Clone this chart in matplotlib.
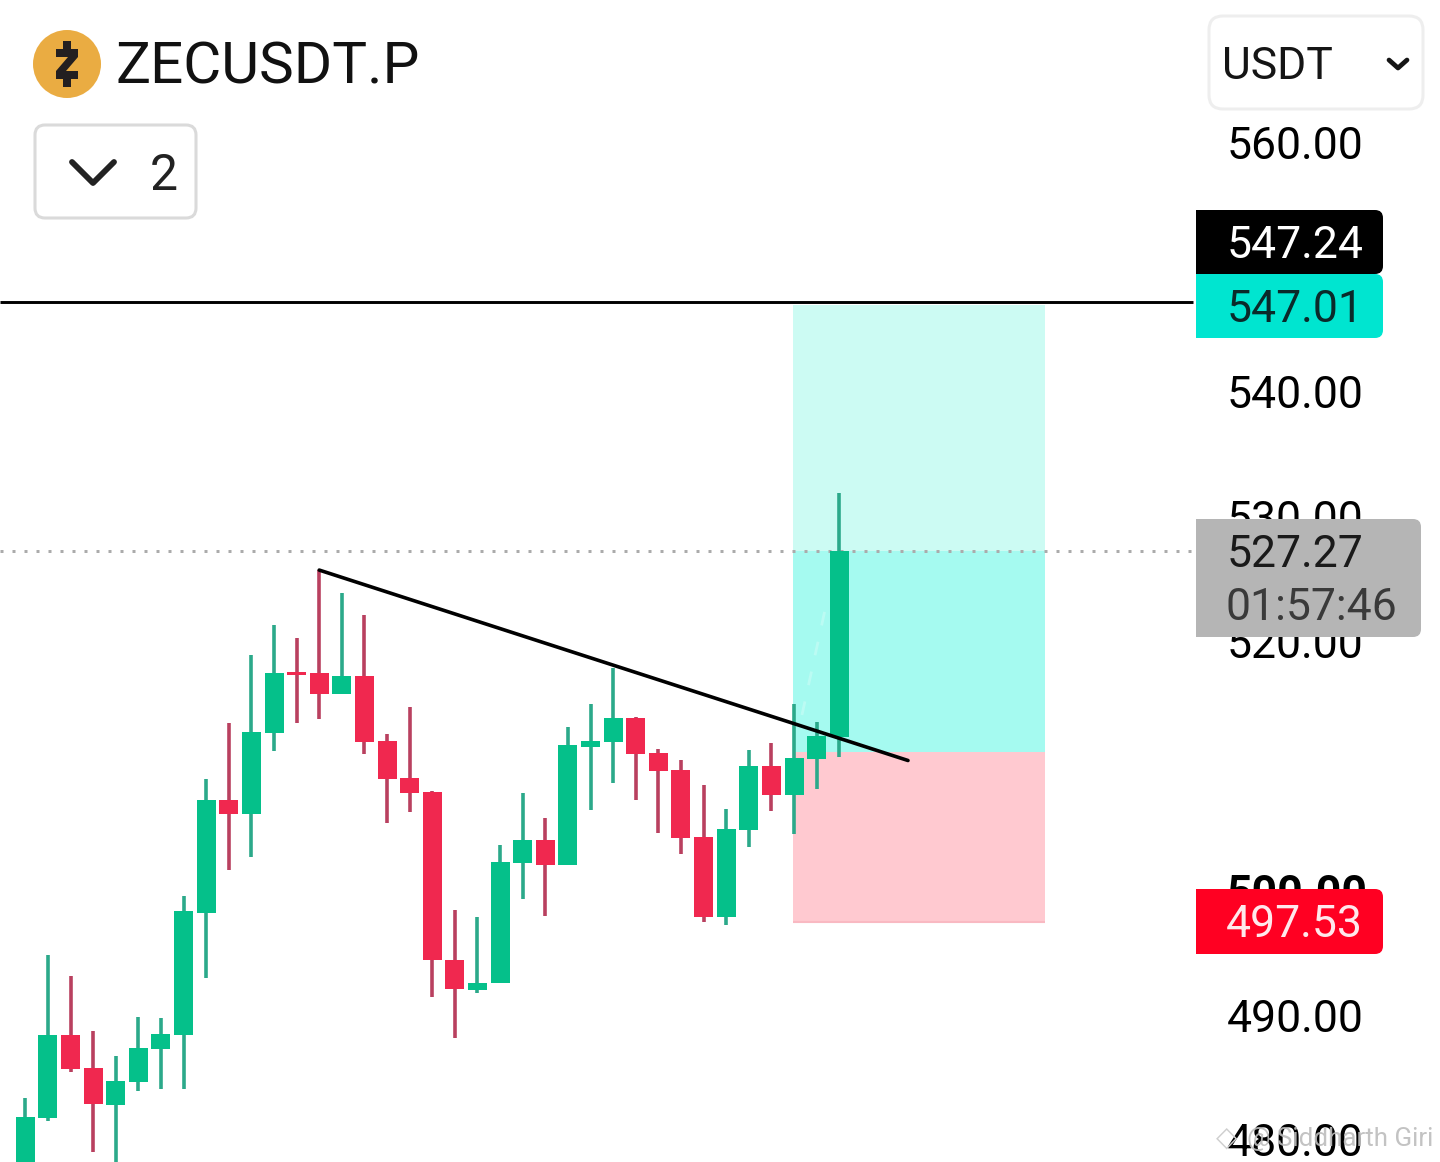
import matplotlib
matplotlib.use('Agg')
import matplotlib.pyplot as plt
from matplotlib.patches import Circle, FancyBboxPatch, Rectangle

plt.rcParams['font.family'] = ['Roboto', 'DejaVu Sans']

# candles (oldest first)
opens = [477.11, 481.77, 488.44, 485.79, 482.82, 484.67, 487.32, 488.44, 498.25, 507.33,
         506.21, 512.64, 517.54, 517.46, 515.77, 517.22, 512.00, 509.10, 507.98, 494.47,
         492.06, 492.62, 502.27, 504.12, 502.11, 511.59, 511.92, 513.85, 511.11, 509.67,
         504.36, 497.93, 504.92, 509.99, 507.74, 510.63, 512.32]
highs = [483.38, 494.87, 493.19, 488.77, 486.76, 489.89, 489.81, 499.62, 509.02, 513.44,
         518.91, 521.32, 520.28, 525.74, 523.89, 522.13, 512.56, 514.73, 508.06, 498.49,
         497.93, 503.72, 507.90, 505.89, 513.12, 514.97, 517.86, 513.93, 511.43, 510.47,
         508.54, 506.61, 511.35, 511.84, 514.97, 513.52, 531.93]
lows = [476.31, 481.53, 485.47, 479.04, 477.11, 483.94, 484.10, 484.10, 493.03, 501.71,
        502.75, 511.27, 513.44, 513.77, 515.77, 511.03, 505.49, 506.37, 491.50, 488.20,
        491.82, 492.62, 499.38, 498.01, 502.11, 506.53, 508.70, 507.33, 504.68, 502.99,
        497.53, 497.29, 503.56, 506.45, 504.60, 508.22, 510.79]
closes = [481.85, 488.44, 485.71, 482.90, 484.75, 487.40, 488.52, 498.41, 507.33, 506.21,
          512.72, 517.46, 517.30, 515.77, 517.22, 511.92, 509.02, 507.90, 494.47, 492.14,
          492.62, 502.35, 504.12, 502.11, 511.68, 512.00, 513.85, 511.03, 509.59, 504.28,
          497.93, 505.00, 509.99, 507.74, 510.71, 512.40, 527.27]

# position tool and price levels
target_price = 547.01
entry_price = 511.17
stop_price = 497.53
last_price = 527.27
line_price = 547.24
position_start = 33.95
position_end = 45.1
trend_x = [13.0, 39.04]
trend_y = [525.74, 510.47]
# faint dashes left in the screenshot, inside the teal box
faint_x = [34.35, 35.37]
faint_y = [514.12, 522.54]

axis_prices = [560, 540, 530, 520, 500, 490, 480]
axis_labels = ['560.00', '540.00', '530.00', '520.00', '500.00', '490.00', '480.00']

GREEN = '#05C08A'
RED = '#F0284F'
GREEN_WICK = '#2BA98A'
RED_WICK = '#B9405F'
PX_PER_UNIT = 12.47

fig = plt.figure(figsize=(14.4, 11.62), dpi=100)
ax = fig.add_axes([0, 0, 1, 1])
ax.set_xlim(-1.119, 62.57)
ax.set_ylim(last_price - 611 / PX_PER_UNIT, last_price + 551 / PX_PER_UNIT)
ax.axis('off')

# long position boxes
box_w = position_end - position_start
ax.add_patch(Rectangle((position_start, last_price), box_w, target_price - last_price, color='#CCFBF3', lw=0, zorder=1))
ax.add_patch(Rectangle((position_start, entry_price), box_w, last_price - entry_price, color='#A5FAF0', lw=0, zorder=1))
ax.add_patch(Rectangle((position_start, stop_price), box_w, entry_price - stop_price, color='#FFC9D0', lw=0, zorder=1))
ax.plot([position_start, position_end], [stop_price, stop_price], color='#F9B9C2', lw=1.5, zorder=1, solid_capstyle='butt')
ax.plot(faint_x, faint_y, color='white', alpha=0.25, lw=2, ls=(0, (5, 6)), zorder=1.5)

# price lines
ax.plot([-1.119, 51.65], [line_price, line_price], color='black', lw=2.1, zorder=2, solid_capstyle='butt')
ax.plot([-1.119, 51.8], [last_price, last_price], color='#ABABAB', lw=2.16, ls=(0, (1, 3)), zorder=2, dash_capstyle='butt')

# candles
for i in range(len(opens)):
    up = closes[i] >= opens[i]
    ax.vlines(i, lows[i], highs[i], color=GREEN_WICK if up else RED_WICK, lw=2.6, zorder=3)
    ax.bar(i, abs(closes[i] - opens[i]), bottom=min(opens[i], closes[i]), width=0.84,
           color=GREEN if up else RED, lw=0, zorder=4)

ax.plot(trend_x, trend_y, color='black', lw=2.6, zorder=5, solid_capstyle='round')

ui = fig.add_axes([0, 0, 1, 1])
ui.set_xlim(0, 1440)
ui.set_ylim(1162, 0)
ui.axis('off')
ui.patch.set_alpha(0)


def price_y(p):
    # same scale as the main axes, in screen pixels
    return 551 + (last_price - p) * PX_PER_UNIT


def tag(x0, x1, y0, y1, color):
    # rounded on the right side only
    ui.add_patch(FancyBboxPatch((x0 + 8, y0 + 8), x1 - x0 - 16, y1 - y0 - 16, boxstyle='round,pad=8,rounding_size=8',
                                fc=color, ec='none', zorder=6))
    ui.add_patch(Rectangle((x0, y0), 20, y1 - y0, fc=color, ec='none', zorder=6))


for p, lab in zip(axis_prices, axis_labels):
    ui.text(1227, price_y(p) + 4, lab, fontsize=32, color='black', va='center', ha='left', zorder=5,
            fontweight='bold' if lab == '500.00' else 'normal')

ui.text(1216, 1138, '\u25c7', fontsize=20, color='#CFCFCF', va='center', ha='left', zorder=5.5)
ui.text(1247, 1139, '@ Siddharth Giri', fontsize=18.7, color='#BDBDBD', va='center', ha='left', zorder=5.5, alpha=0.9)

tag(1196, 1383, 210, 274, 'black')
tag(1196, 1383, 274, 338, '#00E5D0')
tag(1196, 1421, 519, 637, '#B5B5B5')
tag(1196, 1383, 889, 954, '#FF0022')
ui.text(1227, 246, f'{line_price:.2f}', fontsize=32, color='white', va='center', zorder=7)
ui.text(1227, 310, f'{target_price:.2f}', fontsize=32, color='#0A2A2A', va='center', zorder=7)
ui.text(1227, 555, f'{last_price:.2f}', fontsize=32, color='#1A1A1A', va='center', zorder=7)
ui.text(1226, 608, '01:57:46', fontsize=32, color='#3A3A3A', va='center', zorder=7)
ui.text(1226, 925, f'{stop_price:.2f}', fontsize=32, color='#FFE8EC', va='center', zorder=7)

# header
ui.add_patch(Circle((67, 64), 34, fc='#EAAC42', ec='none'))
ui.fill([56, 78, 78, 66, 78, 78, 56, 56, 68, 56], [49, 49, 57, 71, 71, 79, 79, 71, 57, 57], color='#231F20', lw=0)
ui.add_patch(Rectangle((63, 41), 8, 9, fc='#231F20', ec='none'))
ui.add_patch(Rectangle((63, 78), 8, 9, fc='#231F20', ec='none'))
ui.text(116, 68, 'ZECUSDT.P', fontsize=42, color='#111111', va='center', ha='left')

ui.add_patch(FancyBboxPatch((43, 133), 145, 77, boxstyle='round,pad=8,rounding_size=10', fc='white', ec='#DADADA', lw=2.2))
ui.plot([72, 93, 114], [162, 183, 162], color='#222222', lw=4.2, solid_capstyle='round')
ui.text(150, 176, '2', fontsize=36, color='#222222', va='center', ha='left')

ui.add_patch(FancyBboxPatch((1219, 26), 194, 73, boxstyle='round,pad=10,rounding_size=14', fc='white', ec='#EEEEEE', lw=2.2))
ui.text(1222, 67, 'USDT', fontsize=32, color='#151515', va='center', ha='left')
ui.plot([1389, 1398, 1407], [60, 68, 60], color='#151515', lw=3.4, solid_capstyle='round')

fig.savefig('out.png', dpi=100)
